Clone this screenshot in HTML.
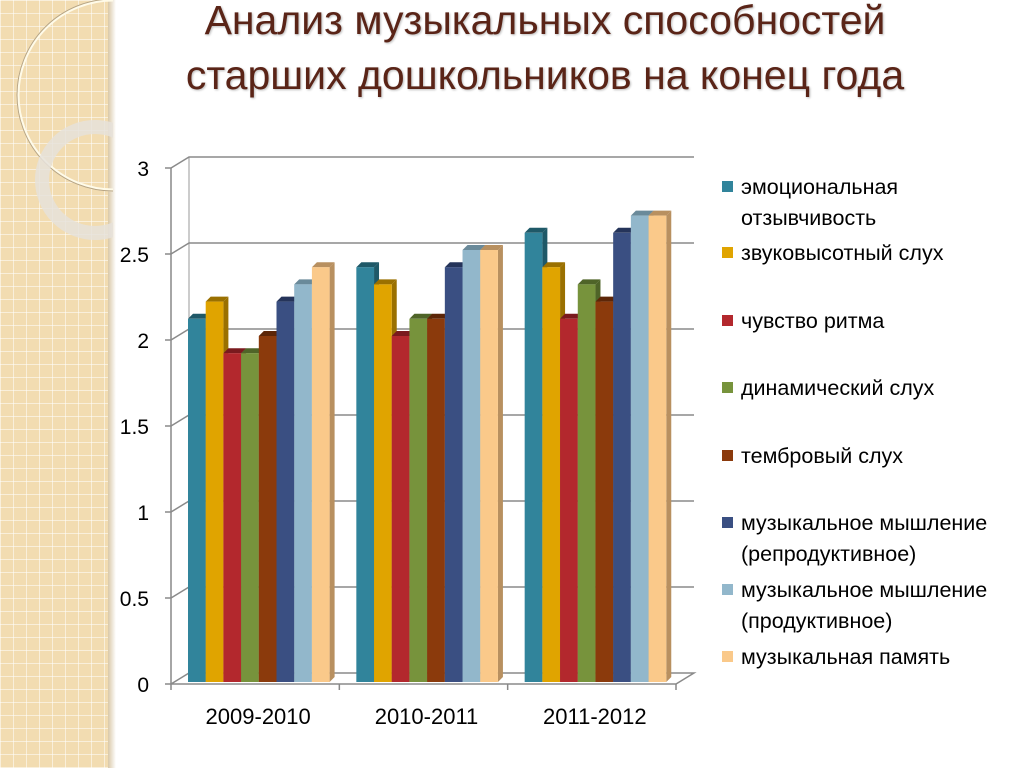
<!DOCTYPE html>
<html><head><meta charset="utf-8"><style>
body{margin:0;width:1024px;height:768px;overflow:hidden;background:#fff;font-family:"Liberation Sans","DejaVu Sans",sans-serif}
#strip{position:absolute;left:0;top:0;width:113px;height:768px;background-color:#f2dcb1;
background-image:linear-gradient(#fff8 1px,transparent 1px),linear-gradient(90deg,#fff8 1px,transparent 1px);background-size:13px 13px}
#shadow{position:absolute;left:108px;top:0;width:8px;height:768px;background:linear-gradient(90deg,#d9c8a8,#fff)}
h1{position:absolute;left:130px;top:-7px;width:830px;margin:0;text-align:center;font-weight:normal;font-size:41px;line-height:55px;color:#5a2417;text-shadow:1px 1px 2px #bbb}
</style></head><body>
<div id="strip"></div>
<div id="shadow"></div>
<svg width="113" height="300" style="position:absolute;left:0;top:0">
<circle cx="113" cy="95" r="95" fill="none" stroke="#fffbe9" stroke-width="3"/>
<circle cx="113" cy="95" r="96" fill="none" stroke="#b8a584" stroke-width="1"/>
<circle cx="95" cy="180" r="53" fill="none" stroke="#e6e2da" stroke-width="14" opacity="0.85"/>
</svg>
<h1>Анализ музыкальных способностей<br>старших дошкольников на конец года</h1>
<svg id="chart" width="1024" height="768" style="position:absolute;left:0;top:0"></svg>
<script>
const categories=["2009-2010","2010-2011","2011-2012"];
const seriesNames=["эмоциональная\nотзывчивость","звуковысотный слух","чувство ритма","динамический слух","тембровый слух","музыкальное мышление\n(репродуктивное)","музыкальное мышление\n(продуктивное)","музыкальная память"];
const s1=[2.1,2.4,2.6];
const s2=[2.2,2.3,2.4];
const s3=[1.9,2.0,2.1];
const s4=[1.9,2.1,2.3];
const s5=[2.0,2.1,2.2];
const s6=[2.2,2.4,2.6];
const s7=[2.3,2.5,2.7];
const s8=[2.4,2.5,2.7];
const series=[s1,s2,s3,s4,s5,s6,s7,s8];
const colors=["#31849b","#e0a400","#b3282d","#77933c","#8b3a0c","#3a4f82","#92b7cb","#fac98a"];
const darks=["#1f5968","#9a7000","#7a1a1e","#4f6428","#5c2608","#25345a","#6a8a9a","#b89060"];
const ticks=[0,0.5,1,1.5,2,2.5,3];
const svg=document.getElementById('chart');const NS="http://www.w3.org/2000/svg";
function mk(t,a,p){const e=document.createElementNS(NS,t);for(const k in a)e.setAttribute(k,a[k]);(p||svg).appendChild(e);return e;}
const X0=171,Y0=684,PX=172,DX=18,DY=11,W=505;
const y=v=>Y0-v*PX;
const cx=i=>X0+i*(W/categories.length);
let e=mk('line',{x1:X0,y1:y(3),x2:X0,y2:Y0,stroke:'#888','stroke-width':1.5});

mk('line',{x1:X0+DX,y1:y(3)-DY,x2:X0+DX,y2:Y0-DY,stroke:'#999','stroke-width':1});
ticks.forEach(t=>{
 const g=mk('path',{d:`M${X0-6},${y(t)} L${X0},${y(t)} L${X0+DX},${y(t)-DY} L${X0+DX+W},${y(t)-DY}`+(t===0?` L${X0+W},${Y0} L${X0},${Y0}`:''),fill:'none',stroke:'#8a8a8a','stroke-width':1.5});
 
 const l=mk('text',{x:X0-22,y:y(t)+8,'text-anchor':'end','font-size':21,fill:'#000'});l.textContent=t;
 
});
for(let i=0;i<=categories.length;i++){mk('line',{x1:cx(i),y1:Y0,x2:cx(i),y2:Y0+6,stroke:'#888','stroke-width':1.5});}
const bw=17.7,d=5;
categories.forEach((c,i)=>{
 const l=mk('text',{x:cx(i)+W/6+3,y:Y0+40,'text-anchor':'middle','font-size':22});l.textContent=c;
 
 series.forEach((s,j)=>{
  const x=cx(i)+17+j*bw,top=y(s[i])-4,bot=Y0-2;
  const g=mk('g',{});
  
  mk('polygon',{points:`${x+bw},${top} ${x+bw+d},${top-d} ${x+bw+d},${bot-d} ${x+bw},${bot}`,fill:darks[j]},g);
  mk('polygon',{points:`${x},${top} ${x+d},${top-d} ${x+bw+d},${top-d} ${x+bw},${top}`,fill:darks[j]},g);
  mk('rect',{x:x,y:top,width:bw,height:bot-top,fill:colors[j]},g);
 });
});
const ly=[187,253,321,388,456,523,590,657];
seriesNames.forEach((n,j)=>{
 const r=mk('rect',{x:722,y:ly[j]-6,width:11,height:11,fill:colors[j]});
 
 const t=mk('text',{x:741,y:ly[j]+7,'font-size':21.5,fill:'#000'});
 
 n.split('\n').forEach((p,k)=>{const ts=mk('tspan',{x:741,dy:k?31:0},t);ts.textContent=p;});
});
</script>
</body></html>
